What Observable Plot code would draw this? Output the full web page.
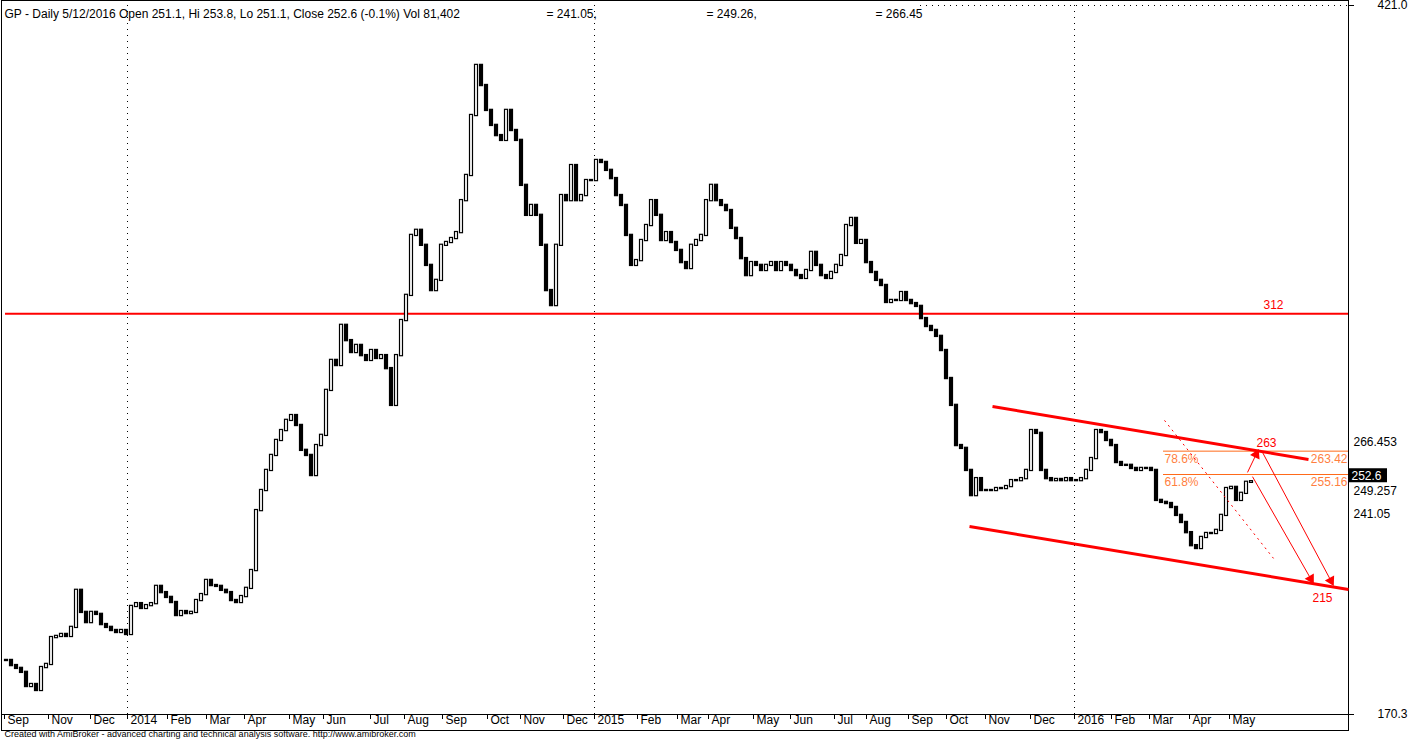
<!DOCTYPE html>
<html><head><meta charset="utf-8">
<script src="https://cdn.jsdelivr.net/npm/d3@7"></script>
<script src="https://cdn.jsdelivr.net/npm/@observablehq/plot@0.6"></script>
<style>
html,body{margin:0;padding:0;background:#fff;}
#chart{width:1410px;height:742px;}
</style></head><body><div id="chart"></div>
<script>
// ---- DATA ----
// Close prices (sampled, one bar per ~2.7 trading days, Sep 2013 – 12 May 2016)
const close = [
189.4,187.6,186.6,185.2,180.2,180.9,178.8,186.9,188.0,197.5,
197.9,198.6,197.9,201.1,214.2,206.4,202.8,206.4,205.7,202.1,
201.1,200.0,199.3,200.0,198.6,208.5,209.5,207.8,208.8,209.5,
215.6,213.4,211.7,209.9,205.3,206.7,206.0,206.4,210.6,212.7,
217.7,215.9,215.6,214.2,213.4,210.6,209.9,212.0,214.9,221.2,
242.4,249.5,256.6,261.9,267.2,270.7,274.3,276.0,272.5,263.7,
261.9,254.8,265.4,269.0,284.9,295.5,293.7,307.9,302.5,298.3,
300.8,297.2,295.5,299.0,296.2,297.2,292.6,279.6,297.2,309.6,
318.5,339.7,341.5,336.2,329.1,320.2,323.8,336.2,337.2,338.6,
340.7,352.0,360.9,382.1,399.8,392.7,383.9,378.6,375.0,373.3,
383.9,376.8,373.3,357.4,346.8,350.3,346.8,336.2,320.2,314.9,
336.2,353.8,352.0,364.4,352.0,353.8,359.1,359.1,366.2,365.5,
362.7,359.8,353.8,350.3,339.7,329.1,330.8,337.9,343.2,352.0,
346.8,337.9,340.7,337.2,334.4,330.1,328.0,336.2,337.9,339.7,
352.0,357.4,352.0,350.3,348.5,342.2,338.6,331.5,325.5,330.1,
329.1,327.3,329.1,330.1,327.3,330.1,329.1,327.3,325.5,324.5,
327.3,333.7,329.1,325.5,324.5,326.6,329.1,332.6,343.2,345.7,
336.9,337.9,330.1,326.6,323.8,322.0,316.0,316.7,316.7,319.5,
316.7,315.6,314.6,310.3,307.5,306.1,304.0,299.0,289.1,279.6,
265.4,264.4,256.6,247.7,253.7,249.5,249.5,249.5,250.2,250.2,
250.9,253.0,253.0,253.7,256.6,270.7,269.7,256.6,253.7,253.0,
253.4,253.0,253.7,253.0,253.0,253.7,256.6,260.8,270.7,270.0,
267.2,265.4,259.4,258.4,258.4,257.3,256.6,257.3,257.3,256.6,
246.0,245.3,244.9,243.5,240.7,238.2,234.6,230.0,229.0,232.9,
234.3,234.3,235.4,240.7,250.2,250.6,246.0,248.5,252.4,252.6
];
const monthLabels = ["Sep","Nov","Dec","2014","Feb","Mar","Apr","May","Jun","Jul","Aug","Sep","Oct","Nov","Dec","2015","Feb","Mar","Apr","May","Jun","Jul","Aug","Sep","Oct","Nov","Dec","2016","Feb","Mar","Apr","May"];
const monthPos = [-0.4,8.4,16.8,24.2,32.2,40,47.6,56.6,63.4,72.8,79.6,87.2,96.2,102.8,111.4,117.6,126.2,134.2,140.4,149.4,156.8,165.6,172,180.4,188,195.8,204.8,213.6,221,228.6,236.6,244.6];
const yearPos = [24.2,117.6,213.6];
const yRange = [170.3, 421.0];
const xRange = [-1, 268.4];
const edgeLabels = [421.0, 170.3];
const levelLabels = [266.453, 249.257, 241.05];
const lastClose = 252.6;
const resistance = 312;
const channel = [
  {x1:197.2,y1:279.2,x2:260.4,y2:260.5},
  {x1:192.6,y1:236.8,x2:268.4,y2:214.5}
];
const fibStart = 231.4;
const fibLevels = [{v:263.42,pct:"78.6%",t:"263.42"},{v:255.16,pct:"61.8%",t:"255.16"}];
const dottedTrend = {x1:231.6,y1:274.3,x2:253.4,y2:225.5};
const arrows = [
  {x1:248.2,y1:255.9,x2:250.4,y2:264.0},
  {x1:249.2,y1:254.4,x2:261.4,y2:216.6},
  {x1:251.2,y1:263.0,x2:265.4,y2:215.9}
];
const redLabels = [{x:253.4,v:312,t:"312"},{x:252,v:263.42,t:"263"},{x:263.2,v:211.3,t:"215"}];
const title = "GP - Daily 5/12/2016 Open 251.1, Hi 253.8, Lo 251.1, Close 252.6 (-0.1%) Vol 81,402";
const topTexts = [title, "= 241.05,", "= 249.26,", "= 266.45"];
const footer = "Created with AmiBroker - advanced charting and technical analysis software. http://www.amibroker.com";

// ---- LAYOUT ----
const W = 1410, H = 742, mT = 5, mB = 28, mL = 1, mR = 62;
const topTextDx = [3, 545, 705, 874];
const redLabelDy = [-9, -8, 0];
const X = d3.scaleLinear(xRange, [mL, W - mR]);
const Y = d3.scaleLinear(yRange, [H - mB, mT]);
const RED = "#ff0000", FIBL = "#ff6a1a", FIBT = "#ff7f3f";
const FONT = "'Liberation Sans', Arial, sans-serif";

const bars = close.map((c, i) => ({i, open: i ? close[i-1] : c, close: c}));
const months = monthLabels.map((t, k) => ({t, x: monthPos[k]}));

const heads = arrows.map(a => {
  const px1 = X(a.x1), py1 = Y(a.y1), px2 = X(a.x2), py2 = Y(a.y2);
  const L = Math.hypot(px2 - px1, py2 - py1), ux = (px2 - px1)/L, uy = (py2 - py1)/L;
  const back = 5.5;
  return {x: X.invert(px2 - ux*back), y: Y.invert(py2 - uy*back), angle: Math.atan2(ux, -uy) * 180/Math.PI};
});
const lineEnds = arrows.map(a => {
  const px1 = X(a.x1), py1 = Y(a.y1), px2 = X(a.x2), py2 = Y(a.y2);
  const L = Math.hypot(px2 - px1, py2 - py1);
  const k = (L - 6) / L;
  return {x1: a.x1, y1: a.y1, x2: X.invert(px1 + (px2-px1)*k), y2: Y.invert(py1 + (py2-py1)*k)};
});

const tickBottom = Y.invert(H - mB + 5);
const tickRight = X.invert(W - mR + 6);

const chart = Plot.plot({
  width: W, height: H,
  marginTop: mT, marginBottom: mB, marginLeft: mL, marginRight: mR,
  x: {domain: xRange, axis: null},
  y: {domain: yRange, axis: null},
  style: {fontFamily: FONT, fontSize: "12px", background: "white", color: "black", overflow: "visible"},
  marks: [
    // grid
    Plot.ruleX(yearPos, {stroke: "black", strokeDasharray: "1,5", strokeWidth: 1}),
    Plot.ruleY([yRange[1]], {x1: 182.8, x2: xRange[1], stroke: "black", strokeDasharray: "1,5"}),
    // frame & axes lines
    Plot.frame({stroke: "black", insetTop: -5, insetBottom: -16}),
    Plot.ruleY([yRange[0]], {stroke: "black"}),
    Plot.ruleY(yRange, {x1: xRange[1], x2: tickRight, stroke: "black"}),
    Plot.ruleX(months, {x: "x", y1: yRange[0], y2: tickBottom, stroke: "black"}),
    Plot.text(months, {x: "x", text: "t", frameAnchor: "bottom", dy: 9, dx: 3, textAnchor: "start", fill: "black", fontSize: 12}),
    // resistance line
    Plot.ruleY([resistance], {x1: -0.2, x2: xRange[1], stroke: RED, strokeWidth: 2}),
    // fib lines
    Plot.ruleY(fibLevels, {y: "v", x1: fibStart, x2: xRange[1], stroke: FIBL, strokeWidth: 1}),
    Plot.text(fibLevels, {y: "v", x: fibStart, text: "pct", dx: 1, dy: 8, textAnchor: "start", fill: FIBT, fontSize: 12}),
    Plot.text(fibLevels, {y: "v", text: "t", frameAnchor: "right", dx: -1, dy: 8, textAnchor: "end", fill: FIBT, fontSize: 12}),
    // candles
    Plot.ruleX(bars, {x: "i", y1: "open", y2: "close", stroke: "black", strokeWidth: 1}),
    Plot.rect(bars, {x1: d => d.i - 0.3, x2: d => d.i + 0.3, y1: "open", y2: "close",
      fill: d => d.close >= d.open ? "white" : "black", stroke: "black", strokeWidth: 1.2,
      insetTop: -0.6, insetBottom: -0.6}),
    // channel & projections
    Plot.link(channel, {x1: "x1", y1: "y1", x2: "x2", y2: "y2", stroke: RED, strokeWidth: 3}),
    Plot.link([dottedTrend], {x1: "x1", y1: "y1", x2: "x2", y2: "y2", stroke: RED, strokeWidth: 1, strokeDasharray: "2,4"}),
    Plot.link(lineEnds, {x1: "x1", y1: "y1", x2: "x2", y2: "y2", stroke: RED, strokeWidth: 1}),
    Plot.dot(heads, {x: "x", y: "y", symbol: "triangle", r: 3.9, fill: RED, stroke: "none", rotate: "angle"}),
    ...redLabels.map((d, k) => Plot.text([d], {x: "x", y: "v", text: "t", dy: redLabelDy[k], fill: RED, fontSize: 12})),
    // right labels
    Plot.rect([lastClose], {x1: () => xRange[1], x2: () => xRange[1], y1: d => d, y2: d => d, dy: -6, insetRight: -39, insetTop: -7, insetBottom: -7, fill: "black"}),
    Plot.text([lastClose], {y: d => d, text: d => d.toFixed(1), frameAnchor: "right", dx: 3, dy: -6, textAnchor: "start", fill: "white", fontSize: 12}),
    Plot.text(edgeLabels, {y: d => d, text: d => d.toFixed(1), frameAnchor: "right", dx: 29, textAnchor: "start", fill: "black", fontSize: 12}),
    Plot.text(levelLabels, {y: d => d, text: d => String(d), frameAnchor: "right", dx: 5, textAnchor: "start", fill: "black", fontSize: 12}),
    // header & footer
    ...topTexts.map((t, k) => Plot.text([t], {text: d => d, frameAnchor: "top-left", dx: topTextDx[k], dy: 4, textAnchor: "start", fill: "black", fontSize: 12})),
    Plot.text([footer], {text: d => d, frameAnchor: "bottom-left", dx: 3, dy: 22, textAnchor: "start", fill: "black", fontSize: 9})
  ]
});
document.getElementById("chart").appendChild(chart);
</script>
</body></html>
